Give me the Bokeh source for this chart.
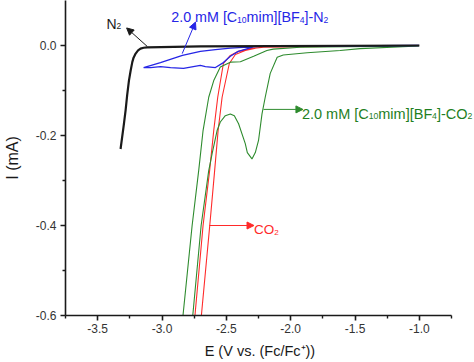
from bokeh.plotting import figure
from bokeh.models import Range1d, FixedTicker, Label, Arrow, NormalHead, PrintfTickFormatter
from bokeh.embed import file_html
from bokeh.resources import INLINE

# ---------------- data ----------------
# N2 blank (black)
n2_E = [-1.00, -2.70, -3.115, -3.143, -3.167, -3.186, -3.205, -3.221, -3.231, -3.244,
        -3.257, -3.271, -3.283, -3.296, -3.322]
n2_I = [0.000, -0.002, -0.004, -0.005, -0.007, -0.011, -0.018, -0.027, -0.037, -0.056,
        -0.078, -0.111, -0.144, -0.174, -0.230]

# 2.0 mM [C10mim][BF4] under N2 (blue)
il_n2_E = [-1.004, -2.275, -2.407, -2.469, -2.523, -2.585, -2.663, -2.702, -2.833, -2.934,
           -3.012, -3.089, -3.143, -3.012, -2.841, -2.702, -2.585, -2.469, -2.236, -1.004]
il_n2_I = [0.000, -0.002, -0.013, -0.024, -0.038, -0.049, -0.047, -0.044, -0.051, -0.049,
           -0.047, -0.049, -0.049, -0.038, -0.022, -0.013, -0.009, -0.006, -0.002, 0.000]

# CO2 (red)
co2_E = [-1.004, -2.236, -2.353, -2.430, -2.477, -2.533, -2.564, -2.591, -2.629, -2.694, -2.717,
         -2.767, -2.744, -2.681, -2.630, -2.598, -2.567, -2.523, -2.469, -2.407, -2.314, -2.159, -1.004]
co2_I = [0.000, -0.004, -0.011, -0.020, -0.040, -0.115, -0.189, -0.278, -0.400, -0.600, -0.667,
         -0.667, -0.600, -0.400, -0.278, -0.189, -0.115, -0.040, -0.022, -0.013, -0.007, -0.002, 0.000]

# 2.0 mM [C10mim][BF4] under CO2 (green)
il_co2_E = [-1.004, -1.461, -1.616, -1.872, -2.058, -2.105, -2.159, -2.198, -2.223, -2.250,
            -2.275, -2.301, -2.337, -2.353, -2.405, -2.438, -2.469, -2.508, -2.547, -2.572,
            -2.611, -2.637, -2.696, -2.761, -2.787,
            -2.860, -2.837, -2.766, -2.715, -2.681, -2.637, -2.598, -2.547, -2.469, -2.391,
            -2.288, -2.185, -2.136, -1.926, -1.004]
il_co2_I = [-0.001, -0.007, -0.011, -0.016, -0.021, -0.026, -0.062, -0.115, -0.152, -0.211,
            -0.238, -0.252, -0.238, -0.218, -0.174, -0.156, -0.152, -0.156, -0.170, -0.189,
            -0.241, -0.278, -0.400, -0.600, -0.667,
            -0.667, -0.600, -0.400, -0.278, -0.189, -0.115, -0.078, -0.048, -0.037, -0.036,
            -0.024, -0.011, -0.008, -0.004, -0.001]

x_major = [-3.5, -3.0, -2.5, -2.0, -1.5, -1.0]
x_minor = [-3.75, -3.25, -2.75, -2.25, -1.75, -1.25, -0.75]
y_major = [0.0, -0.2, -0.4, -0.6]
y_minor = [-0.1, -0.3, -0.5]

# annotation texts: (piece, kind)  n = normal, s = subscript
txt_n2 = [("N", "n"), ("2", "s")]
txt_il_n2 = [("2.0 mM [C", "n"), ("10", "s"), ("mim][BF", "n"), ("4", "s"), ("]-N", "n"), ("2", "s")]
txt_il_co2 = [("2.0 mM [C", "n"), ("10", "s"), ("mim][BF", "n"), ("4", "s"), ("]-CO", "n"), ("2", "s")]
txt_co2 = [("CO", "n"), ("2", "s")]
x_title = "E (V vs. (Fc/Fc\u207a))" + "\u00a0" * 5
y_title = "I (mA)"

FONT = "Liberation Sans"
BLACK = "#1a1a1a"
BLUE = "#2626e6"
RED = "#ff2a2a"
GREEN = "#2e8b2e"
GREEN_T = "#1f7f1f"

W = 474
H = 362
PX_PER_V = 129.0
PX_PER_MA = 450.0
X_LEFT = -3.75
Y_TOP = 0.1
FRAME_LEFT = 64

p = figure(width=W, height=H,
           x_range=Range1d(X_LEFT, X_LEFT + (W - FRAME_LEFT) / PX_PER_V),
           y_range=Range1d(-0.6, Y_TOP),
           output_backend="svg", toolbar_location=None, title=None,
           min_border_left=FRAME_LEFT, min_border_right=0, min_border_top=0, min_border_bottom=47)
p.xgrid.visible = False
p.ygrid.visible = False
p.outline_line_color = None
p.background_fill_color = "white"
p.border_fill_color = "white"

for ax, maj, mnr in ((p.xaxis[0], x_major, x_minor), (p.yaxis[0], y_major, y_minor)):
    ax.ticker = FixedTicker(ticks=maj, minor_ticks=mnr)
    ax.formatter = PrintfTickFormatter(format="%.1f")
    ax.axis_line_color = BLACK
    ax.axis_line_width = 1.6
    ax.major_tick_line_color = BLACK
    ax.major_tick_line_width = 1.6
    ax.minor_tick_line_color = BLACK
    ax.minor_tick_line_width = 1.4
    ax.major_tick_in = 0
    ax.major_tick_out = 5
    ax.minor_tick_in = 0
    ax.minor_tick_out = 3
    ax.major_label_text_font = FONT
    ax.major_label_text_font_size = "12px"
    ax.major_label_text_color = "#333333"
    ax.major_label_standoff = 4
    ax.axis_label_text_font = FONT
    ax.axis_label_text_font_style = "normal"
    ax.axis_label_text_color = BLACK
p.xaxis[0].bounds = (-3.75, -0.75)
p.xaxis[0].major_label_standoff = 3
p.xaxis[0].axis_label = x_title
p.xaxis[0].axis_label_text_font_size = "14.5px"
p.xaxis[0].axis_label_standoff = 7
p.yaxis[0].axis_label = y_title
p.yaxis[0].axis_label_text_font_size = "16px"
p.yaxis[0].axis_label_standoff = 12

# curves
p.line(co2_E, co2_I, line_color=RED, line_width=1.1)
p.line(il_co2_E, il_co2_I, line_color=GREEN, line_width=1.1)
p.line(il_n2_E, il_n2_I, line_color=BLUE, line_width=1.3)
p.line(n2_E, n2_I, line_color=BLACK, line_width=2.2)

# arrows
def arrow(x0, y0, x1, y1, c):
    p.add_layout(Arrow(end=NormalHead(size=7, fill_color=c, line_color=c, line_width=1),
                       x_start=x0, y_start=y0, x_end=x1, y_end=y1,
                       line_color=c, line_width=1))

arrow(-3.115, -0.002, -3.275, 0.039, BLACK)
arrow(-2.843, -0.018, -2.740, 0.052, BLUE)
arrow(-2.211, -0.142, -1.905, -0.142, GREEN)
arrow(-2.632, -0.400, -2.285, -0.400, RED)

# rich-text layout with Arial/Liberation metrics
EM = {'.': 278, ' ': 278, 'm': 833, 'M': 833, '[': 278, ']': 278, 'C': 722, 'i': 222,
      'B': 667, 'F': 611, '-': 333, 'N': 722, 'O': 778}

def tw(s, size):
    return sum(EM.get(ch, 556) for ch in s) * size / 1000.0

def rich(x_px, base_px, pieces, color, size):
    sub = size * 0.6
    x = x_px
    for t, kind in pieces:
        fs = size if kind == "n" else sub
        dy = 2.5 if kind == "s" else 0.0
        xd = X_LEFT + (x - FRAME_LEFT) / PX_PER_V
        yd = Y_TOP - (base_px + dy) / PX_PER_MA
        p.add_layout(Label(x=xd, y=yd, text=t, text_color=color, text_font=FONT,
                           text_font_size="%.1fpx" % fs,
                           text_baseline="alphabetic", text_align="left"))
        x += tw(t, fs)

rich(105, 23.3, txt_n2, BLACK, 14)
rich(170, 16.5, txt_il_n2, BLUE, 14.3)
rich(301, 113.3, txt_il_co2, GREEN_T, 14.5)
rich(253, 229.3, txt_co2, RED, 13.5)

open("out.html", "w").write(file_html(p, INLINE))
